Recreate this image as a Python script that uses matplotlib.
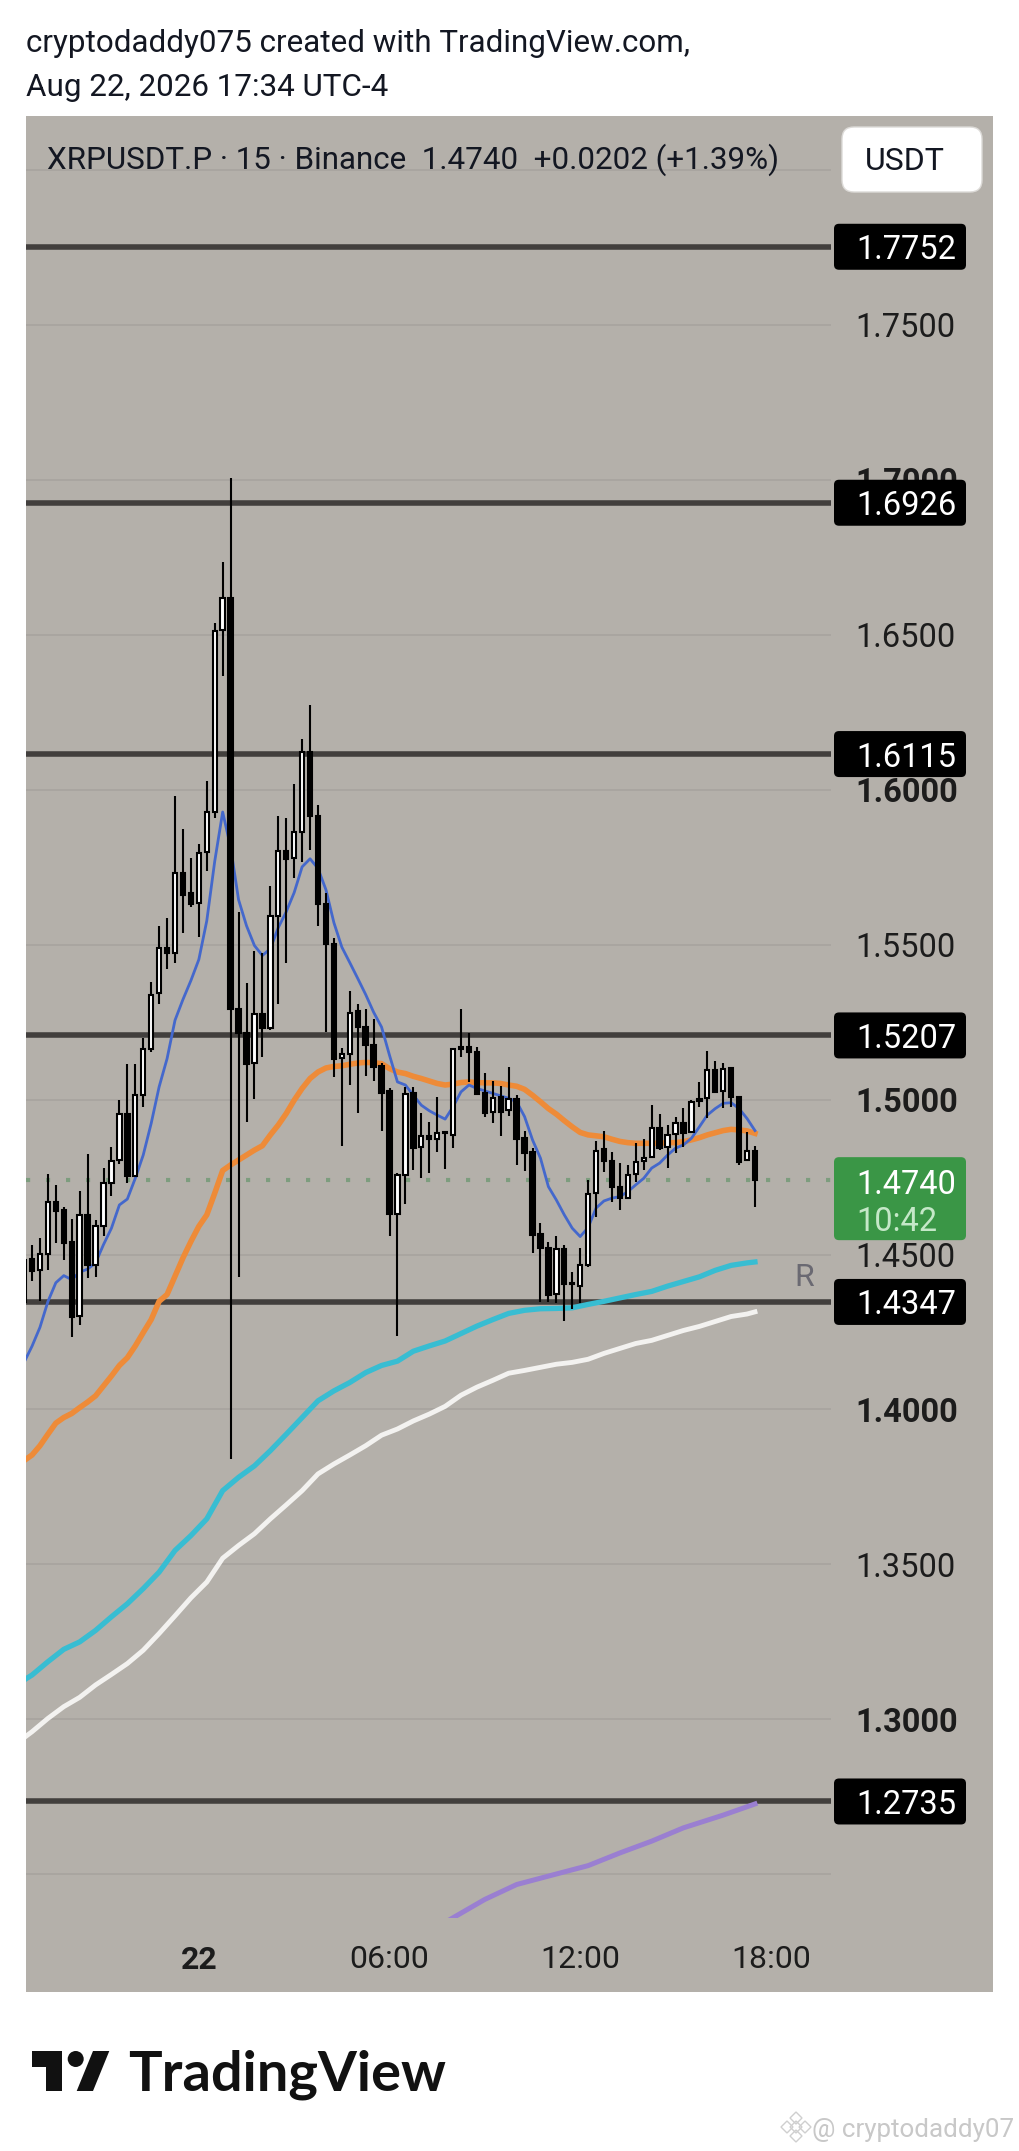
import numpy as np
import matplotlib
matplotlib.use('Agg')
import matplotlib.pyplot as plt
from matplotlib.patches import FancyBboxPatch, Polygon, Circle, Rectangle

plt.rcParams['font.family'] = ['Roboto', 'DejaVu Sans']

# 15 minute candles, first one is cut by the left edge
bars = list(range(-1, 92))
opens = [1.4483, 1.4486, 1.4449, 1.4503, 1.4669, 1.4644, 1.4539, 1.4301, 1.4628, 1.4467, 1.4593, 1.4730, 1.4805, 1.4955, 1.4754, 1.5014, 1.5162,
         1.5343, 1.5489, 1.5474, 1.5732, 1.5668, 1.5633, 1.5799, 1.5928, 1.6514, 1.6617, 1.5291, 1.5214, 1.5117, 1.5275, 1.5230, 1.5593,
         1.5803, 1.5780, 1.5864, 1.6121, 1.5915, 1.5632, 1.5503, 1.5133, 1.5146, 1.5285, 1.5233, 1.5175, 1.5108, 1.5027, 1.4631, 1.4757,
         1.5021, 1.4847, 1.4882, 1.4873, 1.4895, 1.4886, 1.5169, 1.5169, 1.5153, 1.5021, 1.4960, 1.5008, 1.4966, 1.5001, 1.4876, 1.4831,
         1.4567, 1.4522, 1.4374, 1.4519, 1.4409, 1.4400, 1.4467, 1.4699, 1.4841, 1.4802, 1.4718, 1.4683, 1.4760, 1.4802, 1.4815, 1.4908,
         1.4847, 1.4889, 1.4924, 1.4895, 1.5001, 1.5005, 1.5095, 1.5027, 1.5101, 1.5008, 1.4805, 1.4834]
highs = [1.4483, 1.4532, 1.4553, 1.4760, 1.4725, 1.4653, 1.4614, 1.4705, 1.4825, 1.4612, 1.4779, 1.4848, 1.4998, 1.5116, 1.5116, 1.5199, 1.5379,
         1.5561, 1.5587, 1.5981, 1.5873, 1.5780, 1.5825, 1.6028, 1.6539, 1.6734, 1.7006, 1.5606, 1.5375, 1.5481, 1.5474, 1.5690, 1.5915,
         1.5909, 1.6018, 1.6163, 1.6272, 1.5951, 1.5668, 1.5520, 1.5166, 1.5349, 1.5310, 1.5291, 1.5259, 1.5117, 1.5037, 1.4763, 1.5040,
         1.5040, 1.4956, 1.4927, 1.5008, 1.4895, 1.5166, 1.5291, 1.5214, 1.5169, 1.5085, 1.5059, 1.5043, 1.5104, 1.5014, 1.4898, 1.4844,
         1.4603, 1.4541, 1.4561, 1.4532, 1.4445, 1.4522, 1.4741, 1.4866, 1.4898, 1.4831, 1.4796, 1.4789, 1.4860, 1.4873, 1.4982, 1.4953,
         1.4918, 1.4944, 1.4972, 1.4998, 1.5056, 1.5156, 1.5124, 1.5117, 1.5104, 1.5011, 1.4895, 1.4850]
lows = [1.4348, 1.4414, 1.4349, 1.4449, 1.4537, 1.4481, 1.4233, 1.4274, 1.4425, 1.4428, 1.4561, 1.4689, 1.4792, 1.4732, 1.4752, 1.4977, 1.5154,
        1.5307, 1.5420, 1.5442, 1.5537, 1.5622, 1.5526, 1.5738, 1.5909, 1.6367, 1.3840, 1.4426, 1.4927, 1.5001, 1.5137, 1.5223, 1.5310,
        1.5442, 1.5716, 1.5767, 1.5806, 1.5561, 1.5217, 1.5072, 1.4850, 1.5047, 1.4956, 1.5075, 1.5059, 1.4898, 1.4561, 1.4236, 1.4664,
        1.4773, 1.4747, 1.4763, 1.4831, 1.4776, 1.4844, 1.5137, 1.5056, 1.5014, 1.4944, 1.4924, 1.4882, 1.4947, 1.4789, 1.4770, 1.4506,
        1.4348, 1.4348, 1.4345, 1.4287, 1.4323, 1.4345, 1.4461, 1.4622, 1.4767, 1.4670, 1.4644, 1.4680, 1.4734, 1.4773, 1.4812, 1.4837,
        1.4779, 1.4828, 1.4847, 1.4892, 1.4976, 1.4940, 1.5021, 1.4973, 1.4976, 1.4789, 1.4802, 1.4654]
closes = [1.4348, 1.4446, 1.4503, 1.4669, 1.4642, 1.4537, 1.4299, 1.4626, 1.4465, 1.4593, 1.4730, 1.4803, 1.4953, 1.4752, 1.5014, 1.5162, 1.5339,
          1.5489, 1.5474, 1.5732, 1.5661, 1.5632, 1.5796, 1.5928, 1.6511, 1.6617, 1.5291, 1.5214, 1.5114, 1.5275, 1.5230, 1.5593, 1.5803,
          1.5777, 1.5864, 1.6121, 1.5915, 1.5632, 1.5503, 1.5130, 1.5146, 1.5278, 1.5233, 1.5175, 1.5104, 1.5021, 1.4631, 1.4757, 1.5018,
          1.4844, 1.4882, 1.4873, 1.4892, 1.4892, 1.5162, 1.5162, 1.5153, 1.5018, 1.4956, 1.5005, 1.4960, 1.5001, 1.4873, 1.4828, 1.4564,
          1.4522, 1.4371, 1.4519, 1.4406, 1.4406, 1.4467, 1.4696, 1.4834, 1.4802, 1.4718, 1.4683, 1.4757, 1.4799, 1.4812, 1.4908, 1.4844,
          1.4886, 1.4924, 1.4892, 1.4992, 1.4995, 1.5095, 1.5024, 1.5098, 1.5008, 1.4799, 1.4834, 1.4740]

blue_ma = [1.4152, 1.4204, 1.4265, 1.4348, 1.4409, 1.4432, 1.4419, 1.4443, 1.4453, 1.4473, 1.4532, 1.4585, 1.4660, 1.4679, 1.4746, 1.4821, 1.4923,
           1.5041, 1.5132, 1.5256, 1.5323, 1.5384, 1.5452, 1.5577, 1.5769, 1.5928, 1.5814, 1.5645, 1.5561, 1.5497, 1.5465, 1.5487, 1.5555,
           1.5606, 1.5668, 1.5751, 1.5777, 1.5746, 1.5677, 1.5571, 1.5492, 1.5442, 1.5391, 1.5339, 1.5282, 1.5234, 1.5143, 1.5057, 1.5047,
           1.5014, 1.4982, 1.4964, 1.4950, 1.4937, 1.4977, 1.5025, 1.5047, 1.5036, 1.5028, 1.5020, 1.5012, 1.5004, 1.4993, 1.4945, 1.4870,
           1.4811, 1.4719, 1.4676, 1.4628, 1.4585, 1.4558, 1.4587, 1.4650, 1.4673, 1.4682, 1.4687, 1.4703, 1.4725, 1.4746, 1.4779, 1.4795,
           1.4821, 1.4843, 1.4854, 1.4875, 1.4912, 1.4950, 1.4971, 1.4988, 1.4990, 1.4971, 1.4939, 1.4900]
orange_ma = [1.3835, 1.3853, 1.3883, 1.3920, 1.3956, 1.3974, 1.3987, 1.4006, 1.4024, 1.4044, 1.4076, 1.4108, 1.4142, 1.4167, 1.4205, 1.4248, 1.4290,
             1.4349, 1.4371, 1.4430, 1.4489, 1.4542, 1.4591, 1.4628, 1.4698, 1.4771, 1.4789, 1.4805, 1.4821, 1.4837, 1.4851, 1.4886, 1.4918,
             1.4955, 1.4998, 1.5036, 1.5068, 1.5089, 1.5102, 1.5107, 1.5109, 1.5114, 1.5118, 1.5120, 1.5119, 1.5116, 1.5100, 1.5089, 1.5084,
             1.5075, 1.5068, 1.5060, 1.5052, 1.5047, 1.5050, 1.5055, 1.5057, 1.5055, 1.5054, 1.5054, 1.5052, 1.5047, 1.5043, 1.5033, 1.5014,
             1.4993, 1.4971, 1.4953, 1.4932, 1.4912, 1.4894, 1.4886, 1.4883, 1.4880, 1.4872, 1.4865, 1.4861, 1.4859, 1.4859, 1.4859, 1.4859,
             1.4861, 1.4861, 1.4864, 1.4870, 1.4877, 1.4886, 1.4893, 1.4900, 1.4904, 1.4902, 1.4899, 1.4891]

slow_bars = [-1] + list(range(0, 92, 2)) + [91]
cyan_ma = [1.3127, 1.3143, 1.3186, 1.3226, 1.3250, 1.3287, 1.3331, 1.3373, 1.3422, 1.3475, 1.3545, 1.3593, 1.3647, 1.3738, 1.3781, 1.3818, 1.3867,
           1.3920, 1.3974, 1.4028, 1.4060, 1.4087, 1.4119, 1.4142, 1.4156, 1.4188, 1.4205, 1.4221, 1.4245, 1.4269, 1.4290, 1.4310, 1.4320,
           1.4325, 1.4326, 1.4328, 1.4339, 1.4349, 1.4360, 1.4371, 1.4381, 1.4398, 1.4413, 1.4428, 1.4449, 1.4465, 1.4473, 1.4476]
white_ma = [1.2941, 1.2960, 1.3003, 1.3041, 1.3071, 1.3111, 1.3145, 1.3180, 1.3223, 1.3277, 1.3334, 1.3392, 1.3443, 1.3520, 1.3561, 1.3599, 1.3647,
            1.3692, 1.3738, 1.3792, 1.3824, 1.3853, 1.3883, 1.3917, 1.3937, 1.3963, 1.3985, 1.4010, 1.4046, 1.4072, 1.4094, 1.4117, 1.4126,
            1.4136, 1.4146, 1.4152, 1.4162, 1.4181, 1.4197, 1.4213, 1.4223, 1.4239, 1.4255, 1.4268, 1.4284, 1.4300, 1.4308, 1.4315]
purple_bars = [52, 57, 61, 66, 70, 74, 78, 82, 87, 91]
purple_ma = [1.2345, 1.2419, 1.2467, 1.2501, 1.2528, 1.2569, 1.2607, 1.2650, 1.2691, 1.2727]

levels = [1.7752, 1.6926, 1.6115, 1.5207, 1.4347, 1.2735]
last_price = 1.4740
countdown = '10:42'

price_ticks = [1.25, 1.30, 1.35, 1.40, 1.45, 1.50, 1.55, 1.60, 1.65, 1.70, 1.75, 1.80]
price_labels = ['', '1.3000', '1.3500', '1.4000', '1.4500', '1.5000', '1.5500', '1.6000', '1.6500', '1.7000', '1.7500', '']
bold_prices = ['1.3000', '1.4000', '1.5000', '1.6000', '1.7000']
time_ticks = [21, 45, 69, 93]
time_labels = ['22', '06:00', '12:00', '18:00']

W, H = 1020, 2151
PANEL = '#b4b0aa'
GRID = '#a7a39e'
LEVEL = '#423f3d'
LABEL_SIZE = 23.5

fig = plt.figure(figsize=(W / 100, H / 100), dpi=100, facecolor='white')

# background and overlay both work in pixels, y going down
bg = fig.add_axes([0, 0, 1, 1], zorder=0)
bg.set_xlim(0, W)
bg.set_ylim(H, 0)
bg.axis('off')
bg.add_patch(Rectangle((26, 116), 967, 1876, color=PANEL, lw=0))

ax = fig.add_axes([26 / W, 1 - 1918 / H, 805 / W, 1802 / H], zorder=1)
ax.set_facecolor('none')
ax.set_xlim(-0.755, 100.57)
ax.set_ylim(1.2359, 1.8174)
for s in ax.spines.values():
    s.set_visible(False)

ax.yaxis.tick_right()
ax.set_yticks(price_ticks)
ax.set_yticklabels(price_labels, fontsize=LABEL_SIZE, color='#1c1c1c')
for lab in ax.get_yticklabels():
    if lab.get_text() in bold_prices:
        lab.set_fontweight('bold')
ax.set_xticks(time_ticks)
ax.set_xticklabels(time_labels, fontsize=23, color='#1c1c1c')
ax.get_xticklabels()[0].set_fontweight('bold')
ax.tick_params(axis='y', length=0, pad=17.3)
ax.tick_params(axis='x', length=0, pad=19.5)
ax.grid(axis='y', color=GRID, lw=1.2, zorder=1)
ax.grid(axis='x', visible=False)
ax.set_axisbelow(True)

for lv in levels:
    ax.axhline(lv, color=LEVEL, lw=4, zorder=2)
ax.axhline(last_price, color='#7d9d7e', lw=3, linestyle=(0, (1, 3.8)), zorder=2.5)

ax.plot(bars, orange_ma, color='#ee8b38', lw=4, zorder=3, solid_joinstyle='round')
ax.plot(slow_bars, cyan_ma, color='#38bdd2', lw=3.8, zorder=3, solid_joinstyle='round')
ax.plot(slow_bars, white_ma, color='#f3f2f0', lw=3.5, zorder=3, solid_joinstyle='round')
ax.plot(purple_bars, purple_ma, color='#9a7fd1', lw=3.6, zorder=3, solid_joinstyle='round')
ax.plot(bars, blue_ma, color='#4468cc', lw=2, zorder=3, solid_joinstyle='round')

# candles: hollow white when up, solid black when down
o = np.array(opens)
c = np.array(closes)
body_colors = ['white' if b > a else 'black' for a, b in zip(o, c)]
ax.vlines(bars, lows, highs, color='black', lw=1.5, zorder=4)
ax.bar(bars, np.abs(c - o), bottom=np.minimum(o, c), width=0.55, color=body_colors,
       edgecolor='black', linewidth=1.5, zorder=5)

# overlay with price tags, header, logo
fx = fig.add_axes([0, 0, 1, 1], zorder=2)
fx.set_xlim(0, W)
fx.set_ylim(H, 0)
fx.axis('off')


def price_y(p):
    # price to overlay pixel row
    return H - ax.transData.transform((0, p))[1]


def tag(y0, y1, color):
    fx.add_patch(FancyBboxPatch((838, y0 + 4), 124, y1 - y0 - 8, boxstyle='round,pad=4,rounding_size=5',
                                fc=color, ec='none'))


for lv in levels:
    y = price_y(lv)
    tag(y - 23, y + 23, '#000000')
    fx.text(856, y, '%.4f' % lv, color='white', fontsize=LABEL_SIZE, va='center_baseline')

y = price_y(last_price)
tag(y - 23, y + 60, '#3a9646')
fx.text(856, y + 1, '%.4f' % last_price, color='white', fontsize=LABEL_SIZE, va='center_baseline')
fx.text(856, y + 38, countdown, color='#c5e8c8', fontsize=LABEL_SIZE, va='center_baseline')
fx.text(804, 1275, 'R', color='#6a6972', fontsize=23, ha='center', va='center_baseline')

# header
fx.text(26, 41, 'cryptodaddy075 created with TradingView.com,', color='#131722', fontsize=22.6, va='center_baseline')
fx.text(26, 85, 'Aug 22, 2026 17:34 UTC-4', color='#131722', fontsize=22.6, va='center_baseline')
fx.text(47, 156, 'XRPUSDT.P · 15 · Binance  1.4740  +0.0202 (+1.39%)', color='#131722', fontsize=22.6, va='center_baseline')
fx.add_patch(FancyBboxPatch((852, 137), 120, 45, boxstyle='round,pad=10,rounding_size=12', fc='white', ec='#dcdad7', lw=1))
fx.text(905, 159, 'USDT', color='#131722', fontsize=23, ha='center', va='center_baseline')

# TradingView logo
fx.add_patch(Polygon([(31.7, 2051), (62.3, 2051), (62.3, 2091), (46, 2091), (46, 2067), (31.7, 2067)], fc='#111111', ec='none'))
fx.add_patch(Circle((75.7, 2059), 8, fc='#111111', ec='none'))
fx.add_patch(Polygon([(93, 2051), (109.3, 2051), (93, 2091), (76.7, 2091)], fc='#111111', ec='none'))
fx.text(128, 2091, 'TradingView', color='#111111', fontsize=40.3, fontweight='bold', family='Lato', va='baseline')

# watermark
wm = '#cfcfcf'
for dx, dy in [(0, -9), (-9, 0), (9, 0), (0, 9), (0, 0)]:
    cx, cy = 796 + dx, 2127 + dy
    fx.add_patch(Polygon([(cx, cy - 6), (cx + 6, cy), (cx, cy + 6), (cx - 6, cy)], fc='none', ec=wm, lw=1))
fx.text(812, 2127, '@ cryptodaddy07', color='#c8c8c8', fontsize=18.7, va='center_baseline')

fig.savefig('out.png', dpi=100)
